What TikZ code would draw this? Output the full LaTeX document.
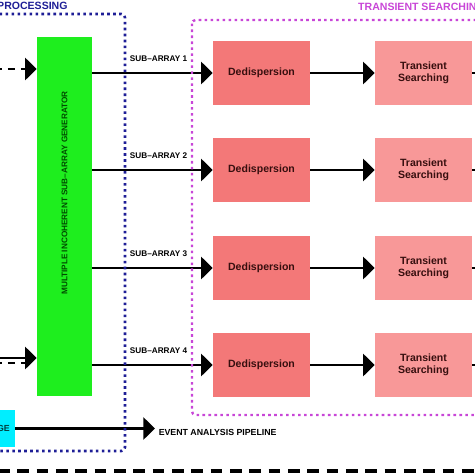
\documentclass[tikz,border=0pt]{standalone}
\usepackage{fontspec}
\setmainfont{Liberation Sans}
\usetikzlibrary{arrows.meta,positioning}
\definecolor{procblue}{RGB}{30,30,150}
\definecolor{searchmag}{RGB}{200,70,215}
\definecolor{dedred}{RGB}{243,120,120}
\definecolor{srchpink}{RGB}{248,152,152}
\definecolor{gengreen}{RGB}{30,238,30}
\definecolor{storecyan}{RGB}{0,238,255}
\definecolor{boxtext}{RGB}{55,15,15}
\tikzset{dedbox/.style={fill=dedred,text=boxtext,minimum width=2.91cm,minimum height=1.92cm,font=\fontsize{9}{10.5}\selectfont\bfseries,align=center}}
\tikzset{srchbox/.style={dedbox,fill=srchpink}}
\tikzset{flow/.style={line width=2pt,-{Triangle[length=10pt,width=19pt]}}}
\tikzset{sublabel/.style={font=\fontsize{7}{8}\selectfont\bfseries,inner sep=1pt}}
\tikzset{boxtitle/.style={font=\fontsize{9}{10}\selectfont\bfseries,inner sep=0pt}}
\tikzset{dotline/.style={line width=2.2pt,dash pattern=on 2.2pt off 2.9pt,rounded corners=3pt}}

\begin{document}
\begin{tikzpicture}[x=0.03cm,y=-0.03cm,line join=round]
\useasboundingbox (0,0) rectangle (474,474);
% --- sub-array generator
\node[fill=gengreen,minimum width=1.65cm,minimum height=10.77cm,inner sep=0pt] (gen) at (64.5,216.5) {};
\node[rotate=90,text=green!30!black,font=\fontsize{7}{8}\selectfont\bfseries] (genlbl) at (64.5,193) {MULTIPLE INCOHERENT SUB--ARRAY GENERATOR};
% --- inputs from the left
\coordinate (inA) at (-5,69);
\coordinate (inB) at (-5,358);
\coordinate (inC) at (-5,363);
\coordinate (inD) at (26,363);
\draw[flow,dash pattern=on 6pt off 5pt] (inA) -- (gen.west |- inA);
\draw[flow] (inB) -- (gen.west |- inB);
\draw[line width=2pt,dash pattern=on 6pt off 5pt] (inC) -- (inD);
% --- four sub-array chains
\foreach \i/\yy in {1/73,2/170,3/268,4/365}{
  \node[dedbox] (ded\i) at (261.5,\yy) {Dedispersion};
  \node[srchbox] (srch\i) at (423.5,\yy) {Transient\\Searching};
  \coordinate (out\i) at (490,\yy);
  \draw[flow] (gen.east |- ded\i) -- node[sublabel,pos=0.55,above=8pt] {SUB--ARRAY \i} (ded\i.west);
  \draw[flow] (ded\i) -- (srch\i);
  \draw[line width=2pt] (srch\i.east) -- (out\i);
}
% --- storage and event pipeline
\node[fill=storecyan,text=teal!50!black,anchor=east,minimum height=1.11cm,text width=1.2cm,align=right,inner xsep=0.15cm,font=\fontsize{7.5}{9}\selectfont\bfseries] (store) at (15,428.5) {GE};
\node[font=\fontsize{7.5}{9}\selectfont\bfseries,anchor=west,inner sep=3pt] (event) at (155,432) {EVENT ANALYSIS PIPELINE};
\draw[flow] (store.east) -- (store.east -| event.west);
% --- dotted frames and titles
\draw[dotline,procblue] (-10,14) rectangle (125,451);
\draw[dotline,searchmag,line width=2pt] (192,20) rectangle (490,415);
\node[boxtitle,text=procblue,anchor=base west] (proctitle) at (-3,9) {PROCESSING};
\node[boxtitle,text=searchmag,anchor=base west] (srchtitle) at (358,10) {TRANSIENT SEARCHING};
% --- bottom divider
\draw[line width=3pt,dash pattern=on 10pt off 6.5pt] (-2,471) -- (480,471);
\end{tikzpicture}
\end{document}
